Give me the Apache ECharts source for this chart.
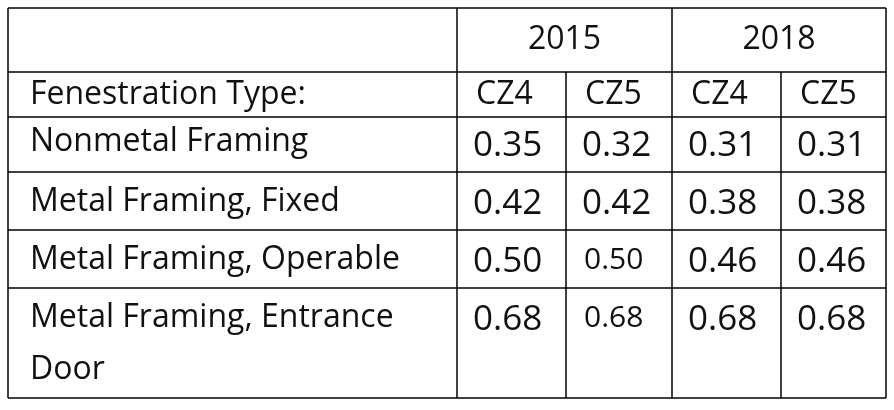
<!DOCTYPE html>
<html><head><meta charset="utf-8">
<script src="https://cdn.jsdelivr.net/npm/echarts@6/dist/echarts.min.js"></script>
<style>html,body{margin:0;background:#fff}#c{width:894px;height:410px}</style>
</head><body><div id="c"></div>
<script>
const years = ['2015', '2018'];
const zones = ['CZ4', 'CZ5', 'CZ4', 'CZ5'];
const headerLabel = 'Fenestration Type:';
const rowLabels = ['Nonmetal Framing', 'Metal Framing, Fixed', 'Metal Framing, Operable', 'Metal Framing, Entrance\nDoor'];
const values = [
  ['0.35', '0.32', '0.31', '0.31'],
  ['0.42', '0.42', '0.38', '0.38'],
  ['0.50', '0.50', '0.46', '0.46'],
  ['0.68', '0.68', '0.68', '0.68']
];
const colX = [8, 457, 566, 672, 781, 886];
const rowY = [8, 72, 117, 172, 230, 288, 398];
const labelCY = [142, 202, 260, 344];
const numCY = [146, 204, 262, 320];
const F = '"Open Sans", sans-serif';
const els = [];
const line = (x1,y1,x2,y2)=>els.push({type:'line',shape:{x1,y1,x2,y2},style:{stroke:'#000',lineWidth:1.5}});
const text = (x,y,t,size,align)=>els.push({type:'text',x,y,style:{text:t,font:`${size}px ${F}`,fill:'#111',textAlign:align||'left',textVerticalAlign:'middle',lineHeight:52}});
rowY.forEach(y=>line(colX[0],y,colX[5],y));
line(colX[0],rowY[0],colX[0],rowY[6]);
line(colX[5],rowY[0],colX[5],rowY[6]);
line(colX[1],rowY[0],colX[1],rowY[6]);
line(colX[3],rowY[0],colX[3],rowY[6]);
line(colX[2],rowY[1],colX[2],rowY[6]);
line(colX[4],rowY[1],colX[4],rowY[6]);
years.forEach((y,i)=>text((colX[1+2*i]+colX[3+2*i])/2,40,y,32,'center'));
text(30,95,headerLabel,32);
zones.forEach((z,i)=>text(colX[1+i]+19,95,z,32));
rowLabels.forEach((r,i)=>text(30,labelCY[i],r,32));
values.forEach((row,i)=>row.forEach((v,j)=>{
  const small = (i>=2 && j===1);
  text(colX[1+j]+(small?18:16),numCY[i]-(small?2:0),v,small?30:35);
}));
const chart = echarts.init(document.getElementById('c'));
chart.setOption({animation:false,graphic:els});
</script></body></html>
